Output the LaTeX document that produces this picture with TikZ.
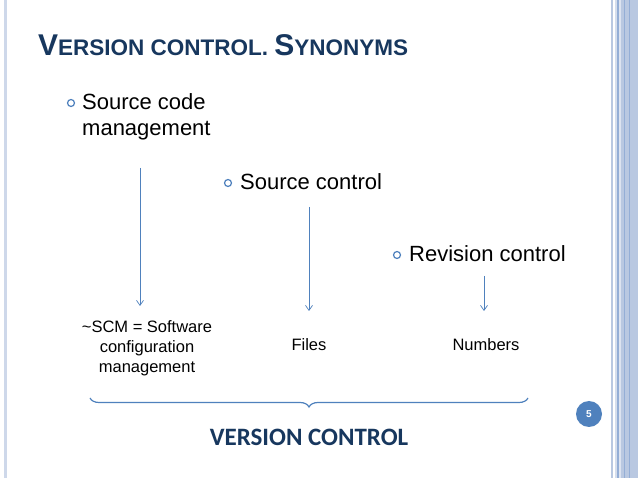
\documentclass[tikz,border=0pt]{standalone}
\usepackage{fontspec}
\setmainfont{Liberation Sans}
\newfontfamily\carl{Carlito}
\usetikzlibrary{decorations.pathreplacing,arrows.meta}
\definecolor{ttl}{HTML}{17375E}
\definecolor{acc}{HTML}{4F81BD}
\definecolor{strip}{HTML}{B9C8E1}
\definecolor{stripd}{HTML}{94AED6}
\tikzset{
 bul/.style={circle,draw=acc,line width=1.2pt,inner sep=0pt,minimum size=7pt},
 txt/.style={anchor=base west,inner sep=0pt,font=\fontsize{22}{26}\selectfont},
 lab/.style={align=center,inner sep=0pt,font=\fontsize{16.5}{20}\selectfont},
 arr/.style={draw=acc,line width=0.7pt,-{Straight Barb[length=5pt,width=7pt]}},
}
\begin{document}
\begin{tikzpicture}[x=1pt,y=-1pt]
\useasboundingbox (0,0) rectangle (638,478);
\fill[white] (0,0) rectangle (638,478);
% decorations
\fill[strip!70] (4,0) rectangle (6.5,478);
\fill[strip] (611,0) rectangle (638,478);
\fill[white] (613,0) rectangle (614.5,478);
\fill[strip!60] (614.5,0) rectangle (616.5,478);
\fill[stripd] (616.5,0) rectangle (618.5,478);
\fill[white!50!strip] (619,0) rectangle (621,478);
\fill[stripd] (624,0) rectangle (625,478);
\fill[stripd] (629,0) rectangle (630,478);
% title
\node[anchor=base west,inner sep=0pt,text=ttl,font=\bfseries] (title) at (38,56)
 {\fontsize{30}{32}\selectfont V\fontsize{22.5}{32}\selectfont ERSION CONTROL. \fontsize{30}{32}\selectfont S\fontsize{22.5}{32}\selectfont YNONYMS};
% bullets
\node[bul] (b1) at (71,103) {};
\node[txt] (t1) at (82,110) {Source code};
\node[txt] (t1b) at (82,136) {management};
\node[bul] (b2) at (228,183) {};
\node[txt] (t2) at (240,190) {Source control};
\node[bul] (b3) at (397,255) {};
\node[txt] (t3) at (409,262) {Revision control};
% arrow endpoints
\coordinate (a1s) at (140,168); \coordinate (a1e) at (140,306);
\coordinate (a2s) at (309,207); \coordinate (a2e) at (309,311);
\coordinate (a3s) at (484,276); \coordinate (a3e) at (484,311);
\draw[arr] (a1s) -- (a1e);
\draw[arr] (a2s) -- (a2e);
\draw[arr] (a3s) -- (a3e);
% labels
\node[lab] (l1) at (147,348) {\textasciitilde SCM = Software\\configuration\\management};
\node[lab,anchor=base] (l2) at (309,351) {Files};
\node[lab,anchor=base] (l3) at (486,351) {Numbers};
% brace
\coordinate (br1) at (90,398); \coordinate (br2) at (528,398);
\draw[acc,line width=1.2pt,decorate,decoration={brace,mirror,amplitude=9pt}] (br1) -- (br2);
\node[anchor=base,inner sep=0pt,text=ttl,font=\carl\bfseries\fontsize{25}{27}\selectfont] (vc) at (309,446) {VERSION CONTROL};
% page number
\node[circle,fill=acc,minimum size=26pt,inner sep=0pt,text=white,font=\bfseries\fontsize{10}{12}\selectfont] (pg) at (589,414) {5};
\end{tikzpicture}
\end{document}
